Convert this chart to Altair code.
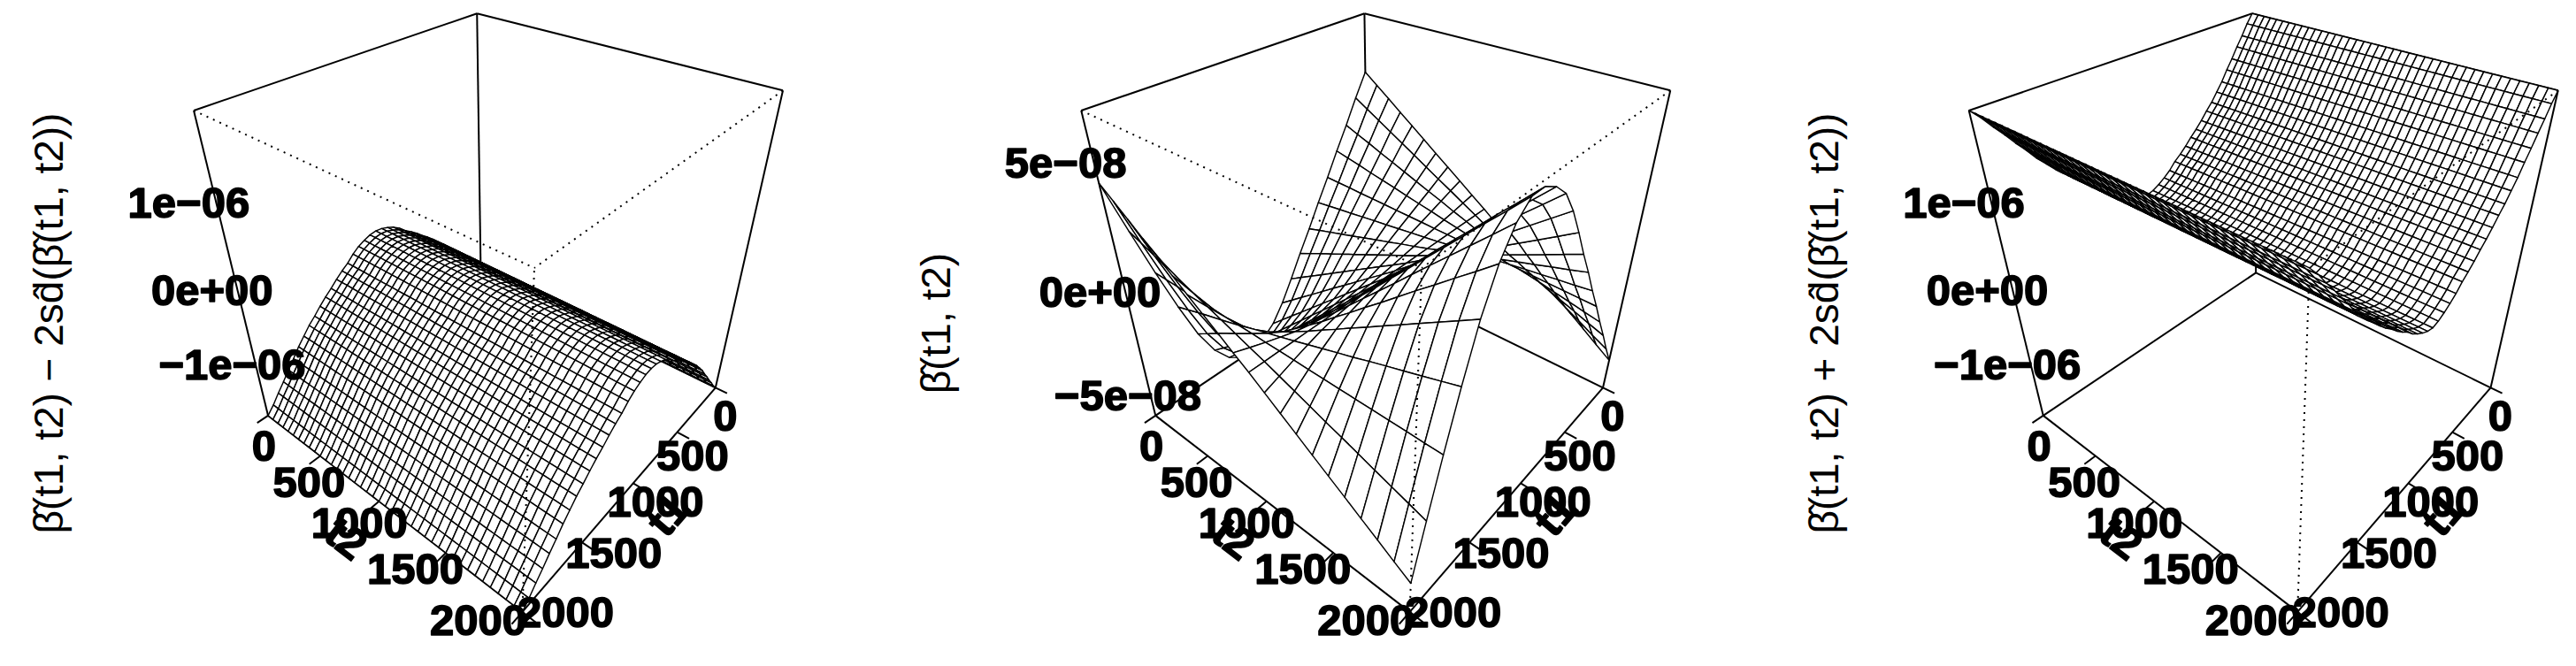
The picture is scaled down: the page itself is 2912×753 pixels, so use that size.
import math
import altair as alt

# ---------------------------------------------------------------- data ----
# grid used for the two band surfaces (t1, t2 = 0, 50, ..., 2000)
T_FINE = list(range(0, 2001, 50))
# grid used for the estimate surface (t1, t2 = 0, 100, ..., 2000)
T_COARSE = list(range(0, 2001, 100))

# lower band  beta(t1,t2) - 2 sd, units 1e-6, by t1 (read as constant along t2)
LOWER_BY_T1 = [-1.95, -1.85, -1.73, -1.62, -1.50, -1.39, -1.27, -1.17, -1.07, -0.99,
               -0.90, -0.82, -0.75, -0.67, -0.60, -0.54, -0.46, -0.40, -0.36, -0.33,
               -0.32,
               -0.33, -0.36, -0.40, -0.46, -0.54, -0.60, -0.67, -0.75, -0.82, -0.90,
               -0.99, -1.07, -1.17, -1.27, -1.39, -1.50, -1.62, -1.73, -1.85, -1.95]
# upper band  beta(t1,t2) + 2 sd, units 1e-6, by t1 (read as constant along t2)
UPPER_BY_T1 = [1.83, 1.73, 1.61, 1.50, 1.38, 1.27, 1.15, 1.05, 0.95, 0.87,
               0.78, 0.70, 0.63, 0.55, 0.48, 0.42, 0.34, 0.28, 0.23, 0.19,
               0.17,
               0.19, 0.23, 0.28, 0.34, 0.42, 0.48, 0.55, 0.63, 0.70, 0.78,
               0.87, 0.95, 1.05, 1.15, 1.27, 1.38, 1.50, 1.61, 1.73, 1.83]
# estimate beta(t1,t2), units 1e-8; rows t2 = 0..2000 step 100, columns t1 = 0..2000 step 100
BETA_GRID = [
    [3.97, 2.98, 1.92, 0.92, -0.13, -1.13, -2.19, -3.18, -4.24, -5.23, -6.03, -6.49, -6.75, -6.75, -6.29, -5.43, -4.11, -2.32, -0.33, 1.79, 3.97],
    [3.53, 2.64, 1.68, 0.78, -0.16, -1.06, -2.01, -2.91, -3.86, -4.75, -5.47, -5.88, -6.12, -6.12, -5.70, -4.93, -3.74, -2.13, -0.34, 1.57, 3.53],
    [3.09, 2.30, 1.45, 0.65, -0.19, -0.99, -1.84, -2.63, -3.48, -4.27, -4.91, -5.28, -5.49, -5.49, -5.12, -4.43, -3.37, -1.94, -0.35, 1.35, 3.09],
    [2.64, 1.95, 1.20, 0.50, -0.23, -0.93, -1.67, -2.37, -3.11, -3.80, -4.36, -4.68, -4.86, -4.86, -4.54, -3.94, -3.02, -1.76, -0.37, 1.11, 2.64],
    [2.20, 1.61, 0.97, 0.37, -0.26, -0.86, -1.50, -2.09, -2.73, -3.32, -3.80, -4.08, -4.23, -4.23, -3.96, -3.44, -2.65, -1.57, -0.38, 0.89, 2.20],
    [1.76, 1.26, 0.73, 0.23, -0.29, -0.79, -1.32, -1.82, -2.35, -2.84, -3.24, -3.47, -3.60, -3.60, -3.37, -2.94, -2.28, -1.39, -0.39, 0.67, 1.76],
    [1.31, 0.91, 0.49, 0.09, -0.33, -0.73, -1.15, -1.55, -1.97, -2.37, -2.69, -2.87, -2.98, -2.98, -2.79, -2.45, -1.92, -1.21, -0.41, 0.44, 1.31],
    [0.87, 0.57, 0.25, -0.05, -0.36, -0.66, -0.98, -1.28, -1.59, -1.89, -2.13, -2.27, -2.35, -2.35, -2.21, -1.95, -1.55, -1.02, -0.42, 0.22, 0.87],
    [0.43, 0.23, 0.02, -0.18, -0.39, -0.59, -0.80, -1.00, -1.21, -1.41, -1.57, -1.66, -1.71, -1.71, -1.62, -1.45, -1.19, -0.83, -0.43, -0.01, 0.43],
    [-0.02, -0.12, -0.23, -0.33, -0.43, -0.53, -0.64, -0.74, -0.84, -0.94, -1.02, -1.07, -1.09, -1.09, -1.05, -0.96, -0.83, -0.65, -0.45, -0.24, -0.02],
    [-0.46, -0.46, -0.46, -0.46, -0.46, -0.46, -0.46, -0.46, -0.46, -0.46, -0.46, -0.46, -0.46, -0.46, -0.46, -0.46, -0.46, -0.46, -0.46, -0.46, -0.46],
    [-0.93, -0.82, -0.71, -0.60, -0.49, -0.38, -0.27, -0.16, -0.05, 0.05, 0.14, 0.19, 0.22, 0.22, 0.17, 0.08, -0.06, -0.26, -0.47, -0.70, -0.93],
    [-1.41, -1.20, -0.97, -0.76, -0.53, -0.32, -0.09, 0.12, 0.35, 0.56, 0.73, 0.83, 0.88, 0.88, 0.79, 0.60, 0.32, -0.06, -0.49, -0.94, -1.41],
    [-1.88, -1.56, -1.22, -0.90, -0.56, -0.24, 0.10, 0.42, 0.75, 1.07, 1.33, 1.48, 1.56, 1.56, 1.41, 1.14, 0.72, 0.14, -0.50, -1.18, -1.88],
    [-2.36, -1.94, -1.48, -1.06, -0.60, -0.18, 0.28, 0.70, 1.15, 1.58, 1.92, 2.12, 2.23, 2.23, 2.03, 1.66, 1.10, 0.33, -0.52, -1.43, -2.36],
    [-2.83, -2.30, -1.73, -1.20, -0.63, -0.10, 0.47, 1.00, 1.56, 2.09, 2.52, 2.77, 2.91, 2.91, 2.66, 2.20, 1.50, 0.54, -0.53, -1.66, -2.83],
    [-3.30, -2.66, -1.99, -1.34, -0.67, -0.02, 0.65, 1.29, 1.97, 2.60, 3.12, 3.41, 3.58, 3.58, 3.29, 2.74, 1.89, 0.74, -0.54, -1.90, -3.30],
    [-3.78, -3.04, -2.25, -1.50, -0.71, 0.04, 0.83, 1.58, 2.37, 3.11, 3.71, 4.05, 4.25, 4.25, 3.91, 3.26, 2.28, 0.93, -0.56, -2.15, -3.78],
    [-4.25, -3.40, -2.50, -1.64, -0.74, 0.12, 1.02, 1.87, 2.77, 3.62, 4.31, 4.70, 4.93, 4.93, 4.53, 3.80, 2.67, 1.13, -0.57, -2.39, -4.25],
    [-4.73, -3.78, -2.76, -1.80, -0.78, 0.18, 1.20, 2.16, 3.17, 4.13, 4.90, 5.34, 5.59, 5.59, 5.15, 4.32, 3.06, 1.33, -0.59, -2.63, -4.73],
    [-5.20, -4.14, -3.01, -1.94, -0.81, 0.26, 1.39, 2.45, 3.58, 4.64, 5.50, 5.99, 6.27, 6.27, 5.78, 4.86, 3.45, 1.53, -0.60, -2.87, -5.20],
]

BAND_ZLIM = [-1.95e-6, 1.83e-6]
BETA_ZLIM = [-6.75e-8, 6.49e-8]
T_RANGE = [0, 2000]
T_TICKS = [0, 500, 1000, 1500, 2000]
BAND_Z_TICKS = [-1e-6, 0.0, 1e-6]
BAND_Z_LABELS = ["\u22121e\u221206", "0e+00", "1e\u221206"]
BETA_Z_TICKS = [-5e-8, 0.0, 5e-8]
BETA_Z_LABELS = ["\u22125e\u221208", "0e+00", "5e\u221208"]
HB = "\u03b2\u0302"
Z_TITLES = [HB + "(t1, t2) \u2212 2sd\u0302(" + HB + "(t1, t2))",
            HB + "(t1, t2)",
            HB + "(t1, t2) + 2sd\u0302(" + HB + "(t1, t2))"]

# ------------------------------------------------------- view settings ----
THETA, PHI, EYE = 130.0, 35.0, 4.2       # azimuth, elevation, eye distance
SCALE = 856.5
PANEL_W, PANEL_H = 965, 737
CENTERS = [(553.3, 298.8), (591.5, 298.8), (630.0, 298.8)]
FONT = "Liberation Sans"

CT, ST = math.cos(math.radians(THETA)), math.sin(math.radians(THETA))
CP, SP = math.cos(math.radians(PHI)), math.sin(math.radians(PHI))


def norm_t(t):
    return (t - (T_RANGE[0] + T_RANGE[1]) / 2) / ((T_RANGE[1] - T_RANGE[0]) / 2)


def norm_z(z, zlim):
    return (z - (zlim[0] + zlim[1]) / 2) / ((zlim[1] - zlim[0]) / 2)


def screen(k, X, Y, Z):
    u1 = X * CT + Y * ST
    w1 = X * ST - Y * CT
    v2 = Z * CP - w1 * SP
    w2 = Z * SP + w1 * CP
    den = EYE - w2
    cx, cy = CENTERS[k]
    return [round(cx + SCALE * u1 / den, 2), round(cy - SCALE * v2 / den, 2)]


def line(k, p, q):
    return {"type": "Feature", "properties": {},
            "geometry": {"type": "LineString",
                         "coordinates": [screen(k, *p), screen(k, *q)]}}


def surface(k, t1s, t2s, grid, zlim):
    cells = []
    for j in range(len(t2s) - 1):
        for i in range(len(t1s) - 1):
            pts = []
            for a, b in ((i, j), (i + 1, j), (i + 1, j + 1), (i, j + 1)):
                pts.append(screen(k, norm_t(t1s[a]), norm_t(t2s[b]), norm_z(grid[b][a], zlim)))
            pts.append(pts[0])
            xc = norm_t((t1s[i] + t1s[i + 1]) / 2)
            yc = norm_t((t2s[j] + t2s[j + 1]) / 2)
            depth = xc * ST - yc * CT
            cells.append((depth, {"type": "Feature", "properties": {},
                                  "geometry": {"type": "Polygon", "coordinates": [pts]}}))
    cells.sort(key=lambda c: c[0])
    return [c[1] for c in cells]


PROJ = dict(type="identity", scale=1, translate=[0, 0])


def text_layer(rows, size, weight, angle=0, heavy=0.0):
    props = dict(font=FONT, fontSize=size, fontWeight=weight, angle=angle,
                 align="center", baseline="middle", color="black")
    if heavy > 0:
        props.update(stroke="black", strokeWidth=heavy, strokeJoin="round")
    return alt.Chart(alt.Data(values=rows)).mark_text(**props).encode(
        longitude="lon:Q", latitude="lat:Q", text="label:N").project(**PROJ)


def angle_of(k, p, q):
    a, b = screen(k, *p), screen(k, *q)
    return math.degrees(math.atan2(b[1] - a[1], b[0] - a[0])) % 360


def panel(k, t1s, t2s, grid, zlim, zticks, zlabels, ztitle):
    A, B, C, D = (1, -1), (-1, -1), (-1, 1), (1, 1)
    top = lambda c: (c[0], c[1], 1)
    bot = lambda c: (c[0], c[1], -1)
    solid = [line(k, bot(A), bot(B)), line(k, bot(B), bot(C)), line(k, bot(C), bot(D)),
             line(k, bot(D), bot(A)), line(k, bot(A), top(A)), line(k, bot(B), top(B)),
             line(k, bot(C), top(C)), line(k, top(A), top(B)), line(k, top(B), top(C))]
    for t in T_TICKS:
        s = norm_t(t)
        solid.append(line(k, (1, s, -1), (1.08, s, -1)))      # t2 axis ticks
        solid.append(line(k, (s, 1, -1), (s, 1.08, -1)))      # t1 axis ticks
    dotted = [line(k, top(A), top(D)), line(k, top(C), top(D)), line(k, bot(D), top(D))]

    back = alt.Chart(alt.Data(values=solid)).mark_geoshape(
        filled=False, stroke="black", strokeWidth=2.0).project(**PROJ)
    surf = alt.Chart(alt.Data(values=surface(k, t1s, t2s, grid, zlim))).mark_geoshape(
        fill="white", stroke="black", strokeWidth=1.45, strokeJoin="round").project(**PROJ)
    front = alt.Chart(alt.Data(values=dotted)).mark_geoshape(
        filled=False, stroke="black", strokeWidth=2.0, strokeDash=[2, 6]).project(**PROJ)

    tick_rows = []
    for t in T_TICKS:
        s = norm_t(t)
        p2 = screen(k, 1.15, 0.85 * s, -1.05)
        p1 = screen(k, 0.85 * s, 1.15, -1.05)
        tick_rows.append({"lon": p2[0], "lat": p2[1], "label": str(t)})
        tick_rows.append({"lon": p1[0], "lat": p1[1], "label": str(t)})
    for z, lab in zip(zticks, zlabels):
        p = screen(k, 1.14, -1, norm_z(z, zlim))
        tick_rows.append({"lon": p[0], "lat": p[1], "label": lab})
    t2t = screen(k, 1.22, -0.05, -1.15)
    t1t = screen(k, -0.05, 1.22, -1.15)
    zt = screen(k, 1, -1, 0)
    ang2 = angle_of(k, (1, -1, -1), (1, 1, -1))
    ang1 = angle_of(k, (1, 1, -1), (-1, 1, -1))
    layers = [back, surf, front,
              text_layer(tick_rows, 49, "bold", heavy=1.6),
              text_layer([{"lon": t2t[0], "lat": t2t[1], "label": "t2"}], 49, "bold", ang2, heavy=1.6),
              text_layer([{"lon": t1t[0], "lat": t1t[1], "label": "t1"}], 49, "bold", ang1, heavy=1.6),
              text_layer([{"lon": zt[0] - 210, "lat": zt[1] + 44, "label": ztitle}], 46, "normal", 270)]
    return alt.layer(*layers).properties(width=PANEL_W, height=PANEL_H)


lower_grid = [[LOWER_BY_T1[i] * 1e-6 for i in range(len(T_FINE))] for _ in T_FINE]
upper_grid = [[UPPER_BY_T1[i] * 1e-6 for i in range(len(T_FINE))] for _ in T_FINE]
beta_grid = [[v * 1e-8 for v in row] for row in BETA_GRID]

p1 = panel(0, T_FINE, T_FINE, lower_grid, BAND_ZLIM, BAND_Z_TICKS, BAND_Z_LABELS, Z_TITLES[0])
p2 = panel(1, T_COARSE, T_COARSE, beta_grid, BETA_ZLIM, BETA_Z_TICKS, BETA_Z_LABELS, Z_TITLES[1])
p3 = panel(2, T_FINE, T_FINE, upper_grid, BAND_ZLIM, BAND_Z_TICKS, BAND_Z_LABELS, Z_TITLES[2])

chart = alt.hconcat(p1, p2, p3, spacing=0, bounds="flush").properties(
    padding=0, background="white"
).configure_view(strokeWidth=0)

chart.save("out.html", embed_options={"renderer": "svg", "actions": False})
